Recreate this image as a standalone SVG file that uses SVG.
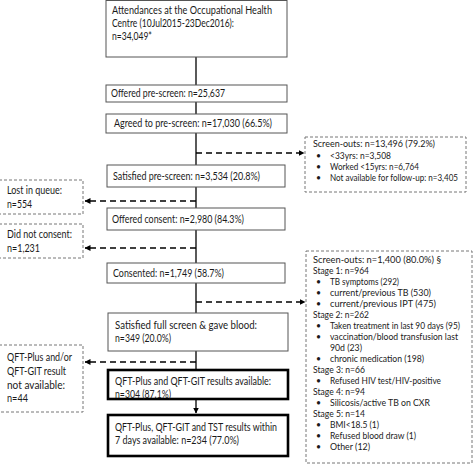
<svg xmlns="http://www.w3.org/2000/svg" width="474" height="476" viewBox="0 0 474 476">
<defs>
<marker id="ah" viewBox="0 0 6 6" refX="5.5" refY="3" markerWidth="6" markerHeight="6" orient="auto" markerUnits="userSpaceOnUse">
<path d="M0,0 L6,3 L0,6 z" fill="#000"/>
</marker>
<style>
text{font-family:Lato,"Open Sans","Liberation Sans",sans-serif;font-size:10.6px;fill:#1a1a1a}
.h{font-size:9.3px}
.s{font-size:8.7px}
.box{fill:#fff;stroke:#555;stroke-width:1}
.thick{fill:#fff;stroke:#000;stroke-width:2.6}
.dbox{fill:#fff;stroke:#777;stroke-width:1;stroke-dasharray:3,2}
.solid{stroke:#000;stroke-width:1.3;fill:none}
.dash{stroke:#000;stroke-width:1.4;fill:none;stroke-dasharray:6,4}
</style>
</defs>
<rect width="474" height="476" fill="#fff"/>
<g id="connectors">
<line class="solid" x1="196" y1="57" x2="196" y2="370"/>
<line class="solid" x1="196" y1="399" x2="196" y2="413" marker-end="url(#ah)"/>
<line class="dash" x1="196" y1="153" x2="304" y2="153" marker-end="url(#ah)"/>
<line class="dash" x1="196" y1="201" x2="85" y2="201" marker-end="url(#ah)"/>
<line class="dash" x1="196" y1="248" x2="85" y2="248" marker-end="url(#ah)"/>
<line class="dash" x1="196" y1="302" x2="305" y2="302" marker-end="url(#ah)"/>
<line class="dash" x1="196" y1="362" x2="85" y2="362" marker-end="url(#ah)"/>
</g>
<g id="attendances">
<rect class="box" x="106" y="0.5" width="181" height="56.5"/>
<text x="112" y="14" textLength="160" lengthAdjust="spacingAndGlyphs">Attendances at the Occupational Health</text>
<text x="112" y="27" textLength="122" lengthAdjust="spacingAndGlyphs">Centre (10Jul2015-23Dec2016):</text>
<text x="112" y="40" textLength="40" lengthAdjust="spacingAndGlyphs">n=34,049*</text>
</g>
<g id="offered-prescreen">
<rect class="box" x="106" y="85" width="181" height="17"/>
<text x="111" y="97" textLength="114" lengthAdjust="spacingAndGlyphs">Offered pre-screen: n=25,637</text>
</g>
<g id="agreed-prescreen">
<rect class="box" x="106" y="114" width="181" height="19"/>
<text x="114" y="127" textLength="158" lengthAdjust="spacingAndGlyphs">Agreed to pre-screen: n=17,030 (66.5%)</text>
</g>
<g id="satisfied-prescreen">
<rect class="box" x="107" y="165" width="178" height="22"/>
<text x="113" y="180" textLength="147" lengthAdjust="spacingAndGlyphs">Satisfied pre-screen: n=3,534 (20.8%)</text>
</g>
<g id="offered-consent">
<rect class="box" x="107" y="208" width="178" height="22"/>
<text x="112" y="223" textLength="132" lengthAdjust="spacingAndGlyphs">Offered consent: n=2,980 (84.3%)</text>
</g>
<g id="consented">
<rect class="box" x="107" y="263" width="178" height="20"/>
<text x="113" y="277" textLength="111" lengthAdjust="spacingAndGlyphs">Consented: n=1,749 (58.7%)</text>
</g>
<g id="full-screen">
<rect class="box" x="108" y="313" width="180" height="38"/>
<text x="115" y="329" textLength="142" lengthAdjust="spacingAndGlyphs">Satisfied full screen &amp; gave blood:</text>
<text x="115" y="342" textLength="56" lengthAdjust="spacingAndGlyphs">n=349 (20.0%)</text>
</g>
<g id="qft-results">
<rect class="thick" x="108" y="370" width="180" height="29"/>
<text x="115" y="385" textLength="156" lengthAdjust="spacingAndGlyphs">QFT-Plus and QFT-GIT results available:</text>
<text x="115" y="398" textLength="56" lengthAdjust="spacingAndGlyphs">n=304 (87.1%)</text>
</g>
<g id="all-results">
<rect class="thick" x="108" y="415" width="180" height="41"/>
<text x="115" y="431" textLength="162" lengthAdjust="spacingAndGlyphs">QFT-Plus, QFT-GIT and TST results within</text>
<text x="115" y="444" textLength="124" lengthAdjust="spacingAndGlyphs">7 days available: n=234 (77.0%)</text>
</g>
<g id="lost-in-queue">
<rect class="dbox" x="-1" y="180" width="84" height="34"/>
<text x="7" y="194" textLength="55" lengthAdjust="spacingAndGlyphs">Lost in queue:</text>
<text x="7" y="208" textLength="25" lengthAdjust="spacingAndGlyphs">n=554</text>
</g>
<g id="did-not-consent">
<rect class="dbox" x="-1" y="224" width="84" height="34"/>
<text x="7" y="238" textLength="65" lengthAdjust="spacingAndGlyphs">Did not consent:</text>
<text x="7" y="252" textLength="33" lengthAdjust="spacingAndGlyphs">n=1,231</text>
</g>
<g id="qft-not-available">
<rect class="dbox" x="-1" y="345" width="84" height="67"/>
<text x="7" y="361" textLength="65" lengthAdjust="spacingAndGlyphs">QFT-Plus and/or</text>
<text x="7" y="375" textLength="59" lengthAdjust="spacingAndGlyphs">QFT-GIT result</text>
<text x="7" y="389" textLength="58" lengthAdjust="spacingAndGlyphs">not available:</text>
<text x="7" y="402" textLength="21" lengthAdjust="spacingAndGlyphs">n=44</text>
</g>
<g id="screen-outs-1">
<rect class="dbox" x="305" y="137" width="161" height="55"/>
<text class="h" x="313" y="147" textLength="122" lengthAdjust="spacingAndGlyphs">Screen-outs: n=13,496 (79.2%)</text>
<text class="s" x="316" y="159">•</text><text class="s" x="330" y="159" textLength="61" lengthAdjust="spacingAndGlyphs">&lt;33yrs: n=3,508</text>
<text class="s" x="316" y="170">•</text><text class="s" x="330" y="170" textLength="89" lengthAdjust="spacingAndGlyphs">Worked &lt;15yrs: n=6,764</text>
<text class="s" x="316" y="181">•</text><text class="s" x="330" y="181" textLength="128" lengthAdjust="spacingAndGlyphs">Not available for follow-up: n=3,405</text>
</g>
<g id="screen-outs-2">
<rect class="dbox" x="306" y="251" width="166" height="212"/>
<text class="h" x="313" y="263" textLength="128" lengthAdjust="spacingAndGlyphs">Screen-outs: n=1,400 (80.0%) §</text>
<text class="s" x="313" y="274" textLength="56" lengthAdjust="spacingAndGlyphs">Stage 1: n=964</text>
<text class="s" x="316" y="285">•</text><text class="s" x="330" y="285" textLength="69" lengthAdjust="spacingAndGlyphs">TB symptoms (292)</text>
<text class="s" x="316" y="296">•</text><text class="s" x="330" y="296" textLength="101" lengthAdjust="spacingAndGlyphs">current/previous TB (530)</text>
<text class="s" x="316" y="307">•</text><text class="s" x="330" y="307" textLength="106" lengthAdjust="spacingAndGlyphs">current/previous IPT (475)</text>
<text class="s" x="313" y="318" textLength="56" lengthAdjust="spacingAndGlyphs">Stage 2: n=262</text>
<text class="s" x="316" y="329">•</text><text class="s" x="330" y="329" textLength="130" lengthAdjust="spacingAndGlyphs">Taken treatment in last 90 days (95)</text>
<text class="s" x="316" y="340">•</text><text class="s" x="330" y="340" textLength="128" lengthAdjust="spacingAndGlyphs">vaccination/blood transfusion last</text>
<text class="s" x="330" y="351" textLength="32" lengthAdjust="spacingAndGlyphs">90d (23)</text>
<text class="s" x="316" y="362">•</text><text class="s" x="330" y="362" textLength="94" lengthAdjust="spacingAndGlyphs">chronic medication (198)</text>
<text class="s" x="313" y="373" textLength="52" lengthAdjust="spacingAndGlyphs">Stage 3: n=66</text>
<text class="s" x="316" y="384">•</text><text class="s" x="330" y="384" textLength="111" lengthAdjust="spacingAndGlyphs">Refused HIV test/HIV-positive</text>
<text class="s" x="313" y="395" textLength="52" lengthAdjust="spacingAndGlyphs">Stage 4: n=94</text>
<text class="s" x="316" y="406">•</text><text class="s" x="330" y="406" textLength="100" lengthAdjust="spacingAndGlyphs">Silicosis/active TB on CXR</text>
<text class="s" x="313" y="417" textLength="52" lengthAdjust="spacingAndGlyphs">Stage 5: n=14</text>
<text class="s" x="316" y="428">•</text><text class="s" x="330" y="428" textLength="49" lengthAdjust="spacingAndGlyphs">BMI&lt;18.5 (1)</text>
<text class="s" x="316" y="439">•</text><text class="s" x="330" y="439" textLength="86" lengthAdjust="spacingAndGlyphs">Refused blood draw (1)</text>
<text class="s" x="316" y="450">•</text><text class="s" x="330" y="450" textLength="40" lengthAdjust="spacingAndGlyphs">Other (12)</text>
</g>
</svg>
